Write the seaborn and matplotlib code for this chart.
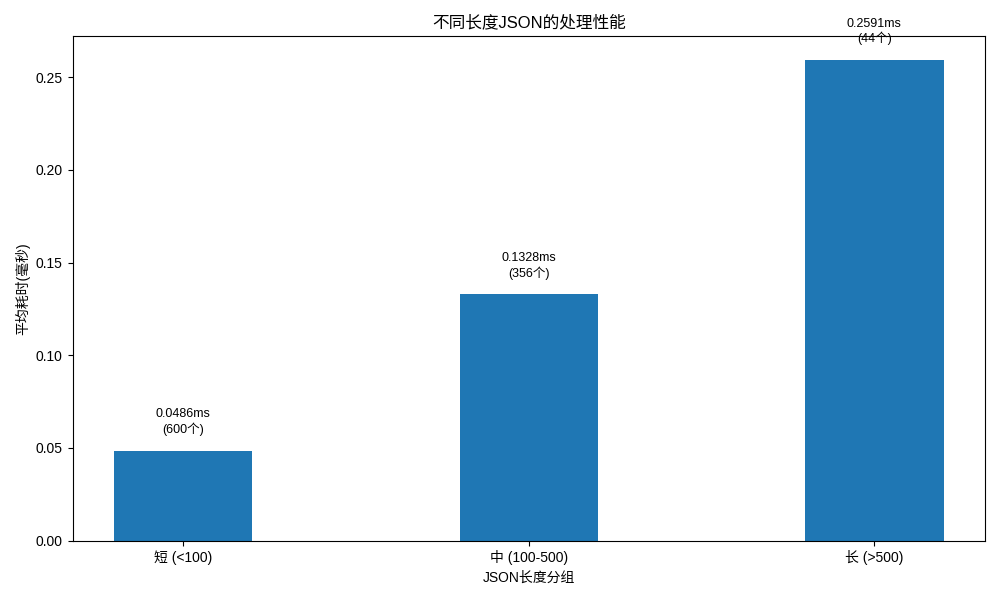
import matplotlib
matplotlib.use('Agg')
import matplotlib.pyplot as plt
import seaborn as sns
import pandas as pd

plt.rcParams['font.family'] = ['Liberation Sans', 'Noto Sans CJK SC', 'DejaVu Sans']
plt.rcParams['axes.unicode_minus'] = False

groups = ['短 (<100)', '中 (100-500)', '长 (>500)']
avg_ms = [0.0486, 0.1328, 0.2591]
counts = [600, 356, 44]

df = pd.DataFrame({'group': groups, 'avg_ms': avg_ms, 'count': counts})

fig, ax = plt.subplots(figsize=(10, 6), dpi=100)
sns.barplot(data=df, x='group', y='avg_ms', color='#1f77b4', saturation=1,
            width=0.4, linewidth=0, ax=ax)
ax.set_xlim(-0.32, 2.32)

# label each bar with time and sample count
for i, (v, n) in enumerate(zip(avg_ms, counts)):
    ax.text(i, v + 0.008, f'{v:.4f}ms\n({n}个)', ha='center', va='bottom', fontsize=9)

ax.set_title('不同长度JSON的处理性能', fontsize=12)
ax.set_xlabel('JSON长度分组')
ax.set_ylabel('平均耗时(毫秒)')

plt.tight_layout()
plt.savefig('out.png', dpi=100)
